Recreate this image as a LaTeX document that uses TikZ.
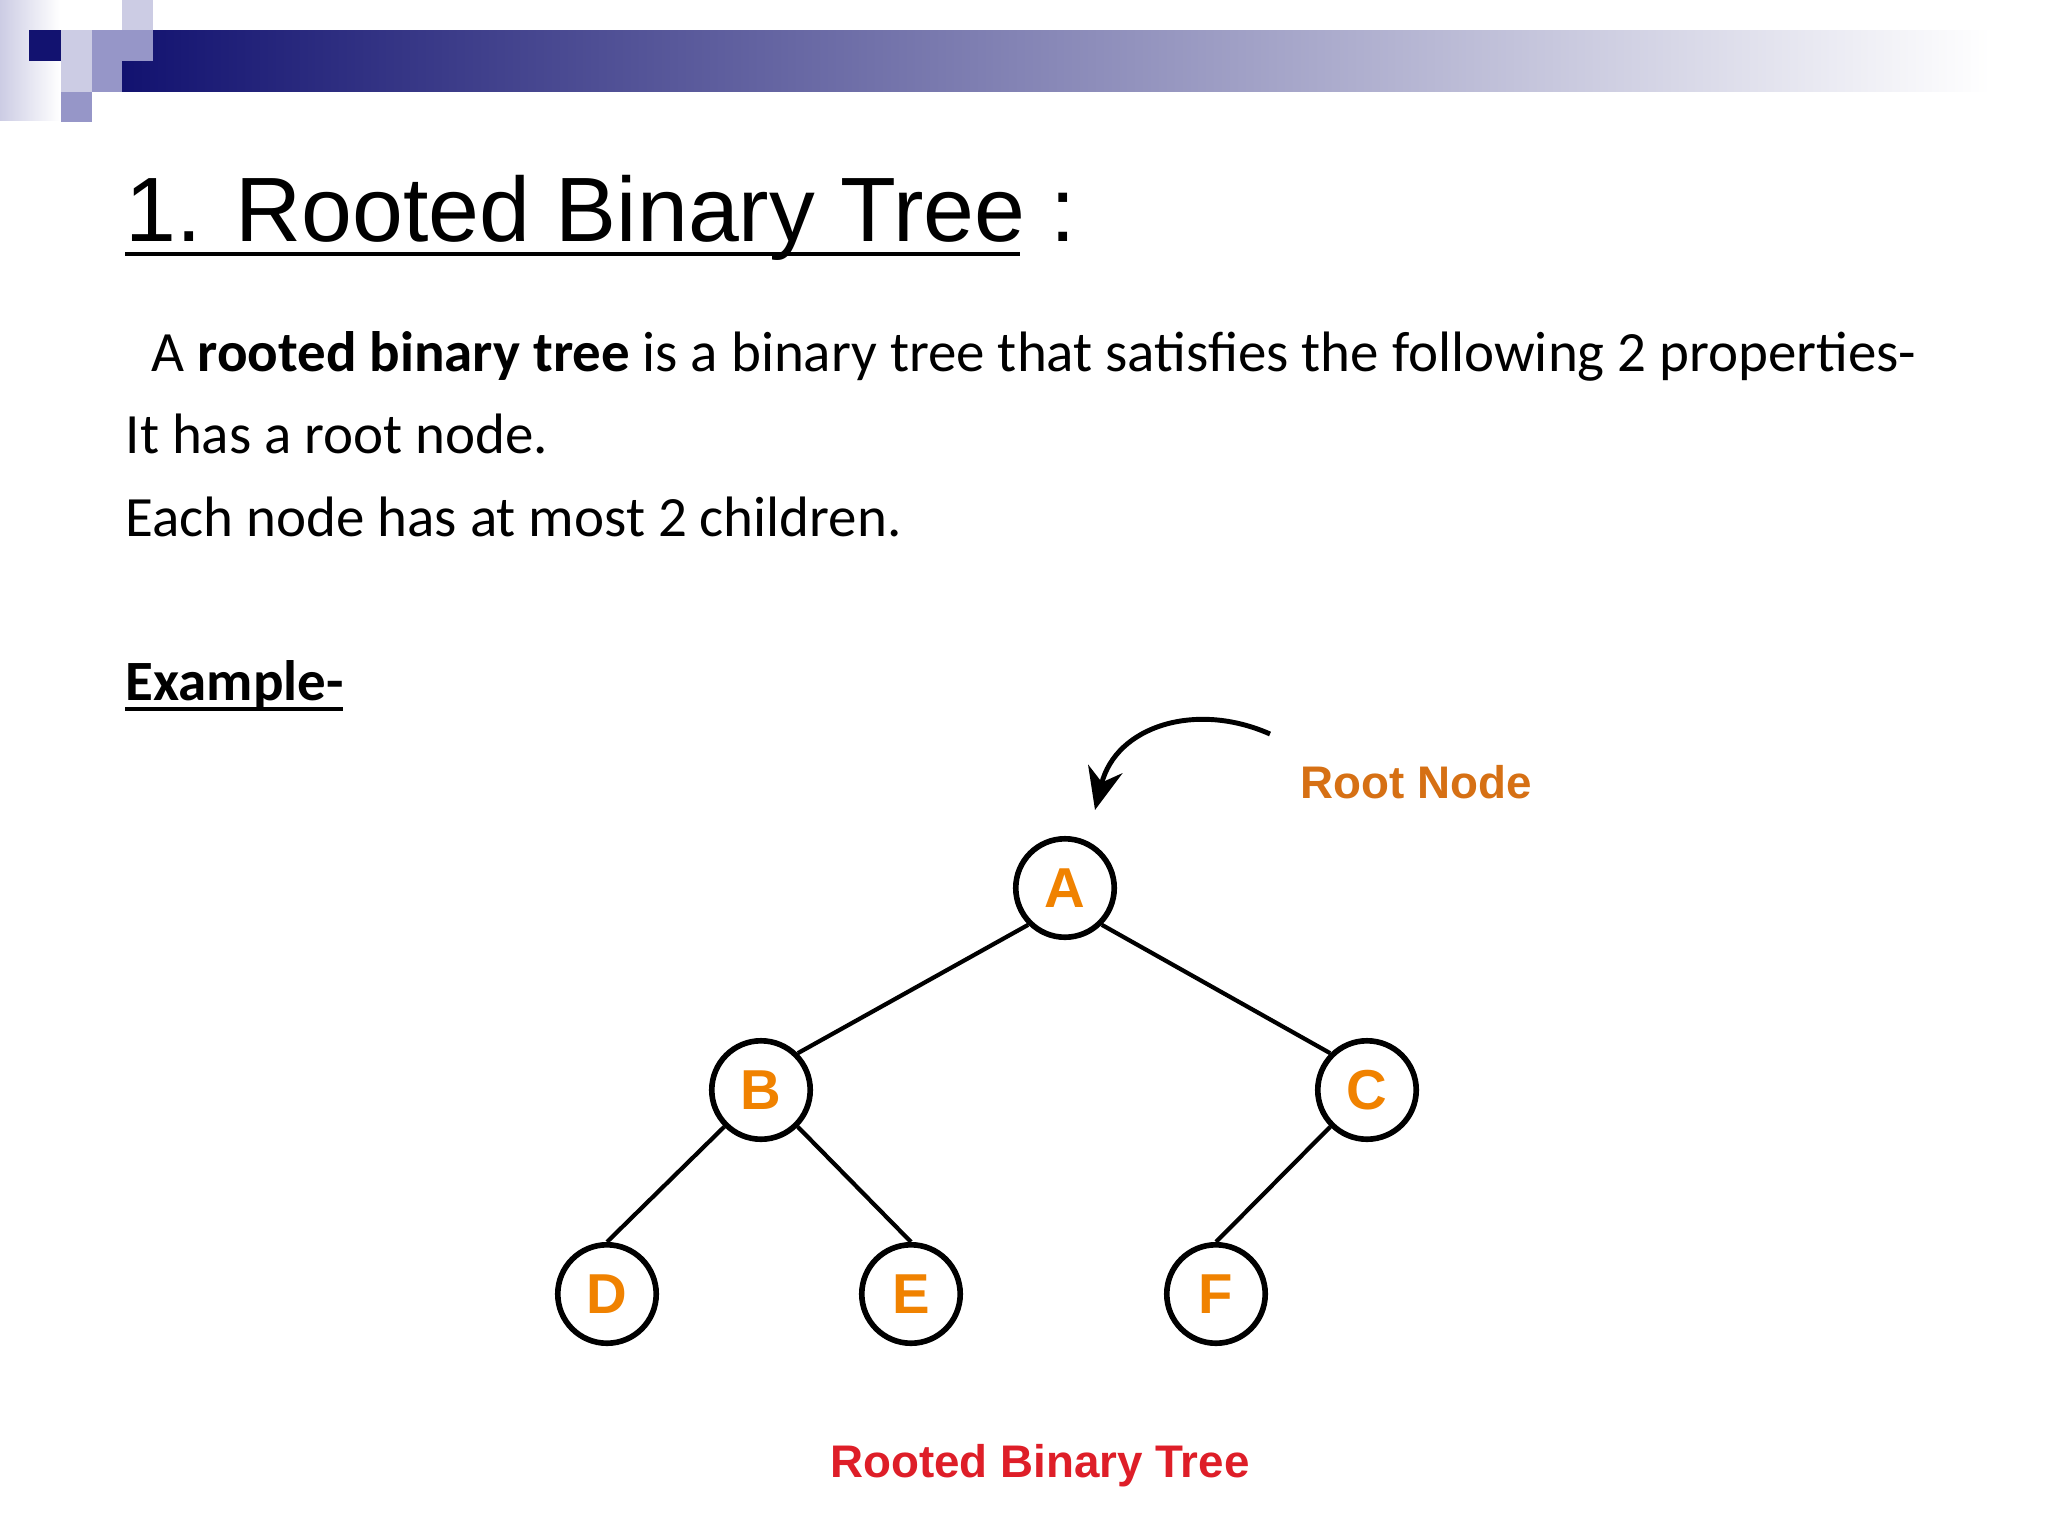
\documentclass[tikz,border=0pt]{standalone}
\usepackage{fontspec}
\setmainfont{Carlito}
\newfontfamily\arialf{Liberation Sans}
\usetikzlibrary{arrows.meta}
\definecolor{navy}{RGB}{18,18,112}
\definecolor{sqlight}{RGB}{204,204,228}
\definecolor{sqmed}{RGB}{150,150,200}
\definecolor{treeorange}{RGB}{240,130,0}
\definecolor{rootorange}{RGB}{214,112,20}
\definecolor{capred}{RGB}{222,30,40}
\tikzset{
 tnode/.style={circle,draw=black,line width=1.6pt,fill=white,minimum size=28pt,inner sep=0pt,
   font=\arialf\bfseries\fontsize{16}{16}\selectfont,text=treeorange},
 edge/.style={line width=1.2pt},
 body/.style={anchor=base west,inner sep=0pt,font=\fontsize{16.2}{18}\selectfont}
}
\begin{document}
\begin{tikzpicture}[x=0.01cm,y=-0.01cm]
\useasboundingbox (0,0) rectangle (2048,1536);
\fill[white] (0,0) rectangle (2048,1536);
% decoration
\shade[left color=sqlight,right color=white] (0,0) rectangle (60,120);
\shade[left color=navy,right color=white] (122,30) rectangle (1990,91);
\fill[navy] (29,30) rectangle (61,61);
\fill[sqlight] (61,30) rectangle (92,61);
\fill[sqmed] (92,30) rectangle (122,61);
\fill[sqlight] (122,0) rectangle (153,30);
\fill[sqmed] (122,30) rectangle (153,61);
\fill[sqlight] (61,61) rectangle (92,92);
\fill[sqmed] (92,61) rectangle (122,92);
\fill[sqmed] (61,92) rectangle (92,122);
% title
\node[anchor=base west,inner sep=0pt,font=\arialf\fontsize{26}{30}\selectfont] (title) at (125,241) {1. Rooted Binary Tree\ :};
\draw[line width=1.2pt] (125,254) -- (1020,254);
% body
\node[body] (l1) at (151,371) {A \textbf{rooted binary tree} is a binary tree that satisfies the following 2 properties-};
\node[body] (l2) at (125,453) {It has a root node.};
\node[body] (l3) at (125,536) {Each node has at most 2 children.};
\node[body,font=\bfseries\fontsize{16.2}{18}\selectfont] (ex) at (125,700) {Example-};
\draw[line width=1.1pt] (125,709) -- (343,709);
% tree
\node[tnode] (A) at (1065,888) {A};
\node[tnode] (B) at (761,1090) {B};
\node[tnode] (C) at (1367,1090) {C};
\node[tnode] (D) at (607,1294) {D};
\node[tnode] (E) at (911,1294) {E};
\node[tnode] (F) at (1216,1294) {F};
\draw[edge] (A.south west) -- (B.north east);
\draw[edge] (A.south east) -- (C.north west);
\draw[edge] (B.south west) -- (D.north);
\draw[edge] (B.south east) -- (E.north);
\draw[edge] (C.south west) -- (F.north);
\node[font=\arialf\bfseries\fontsize{13}{15}\selectfont,text=rootorange] (root) at (1416,782) {Root Node};
\coordinate (rs) at (1270,734);
\coordinate (re) at (1095,810);
\draw[line width=1.4pt,-{Stealth[length=12pt,width=10pt]}] (rs) .. controls (1196,701) and (1116,726) .. (re);
\node[font=\arialf\bfseries\fontsize{13}{15}\selectfont,text=capred] (cap) at (1040,1466) {Rooted Binary Tree};
\end{tikzpicture}
\end{document}
